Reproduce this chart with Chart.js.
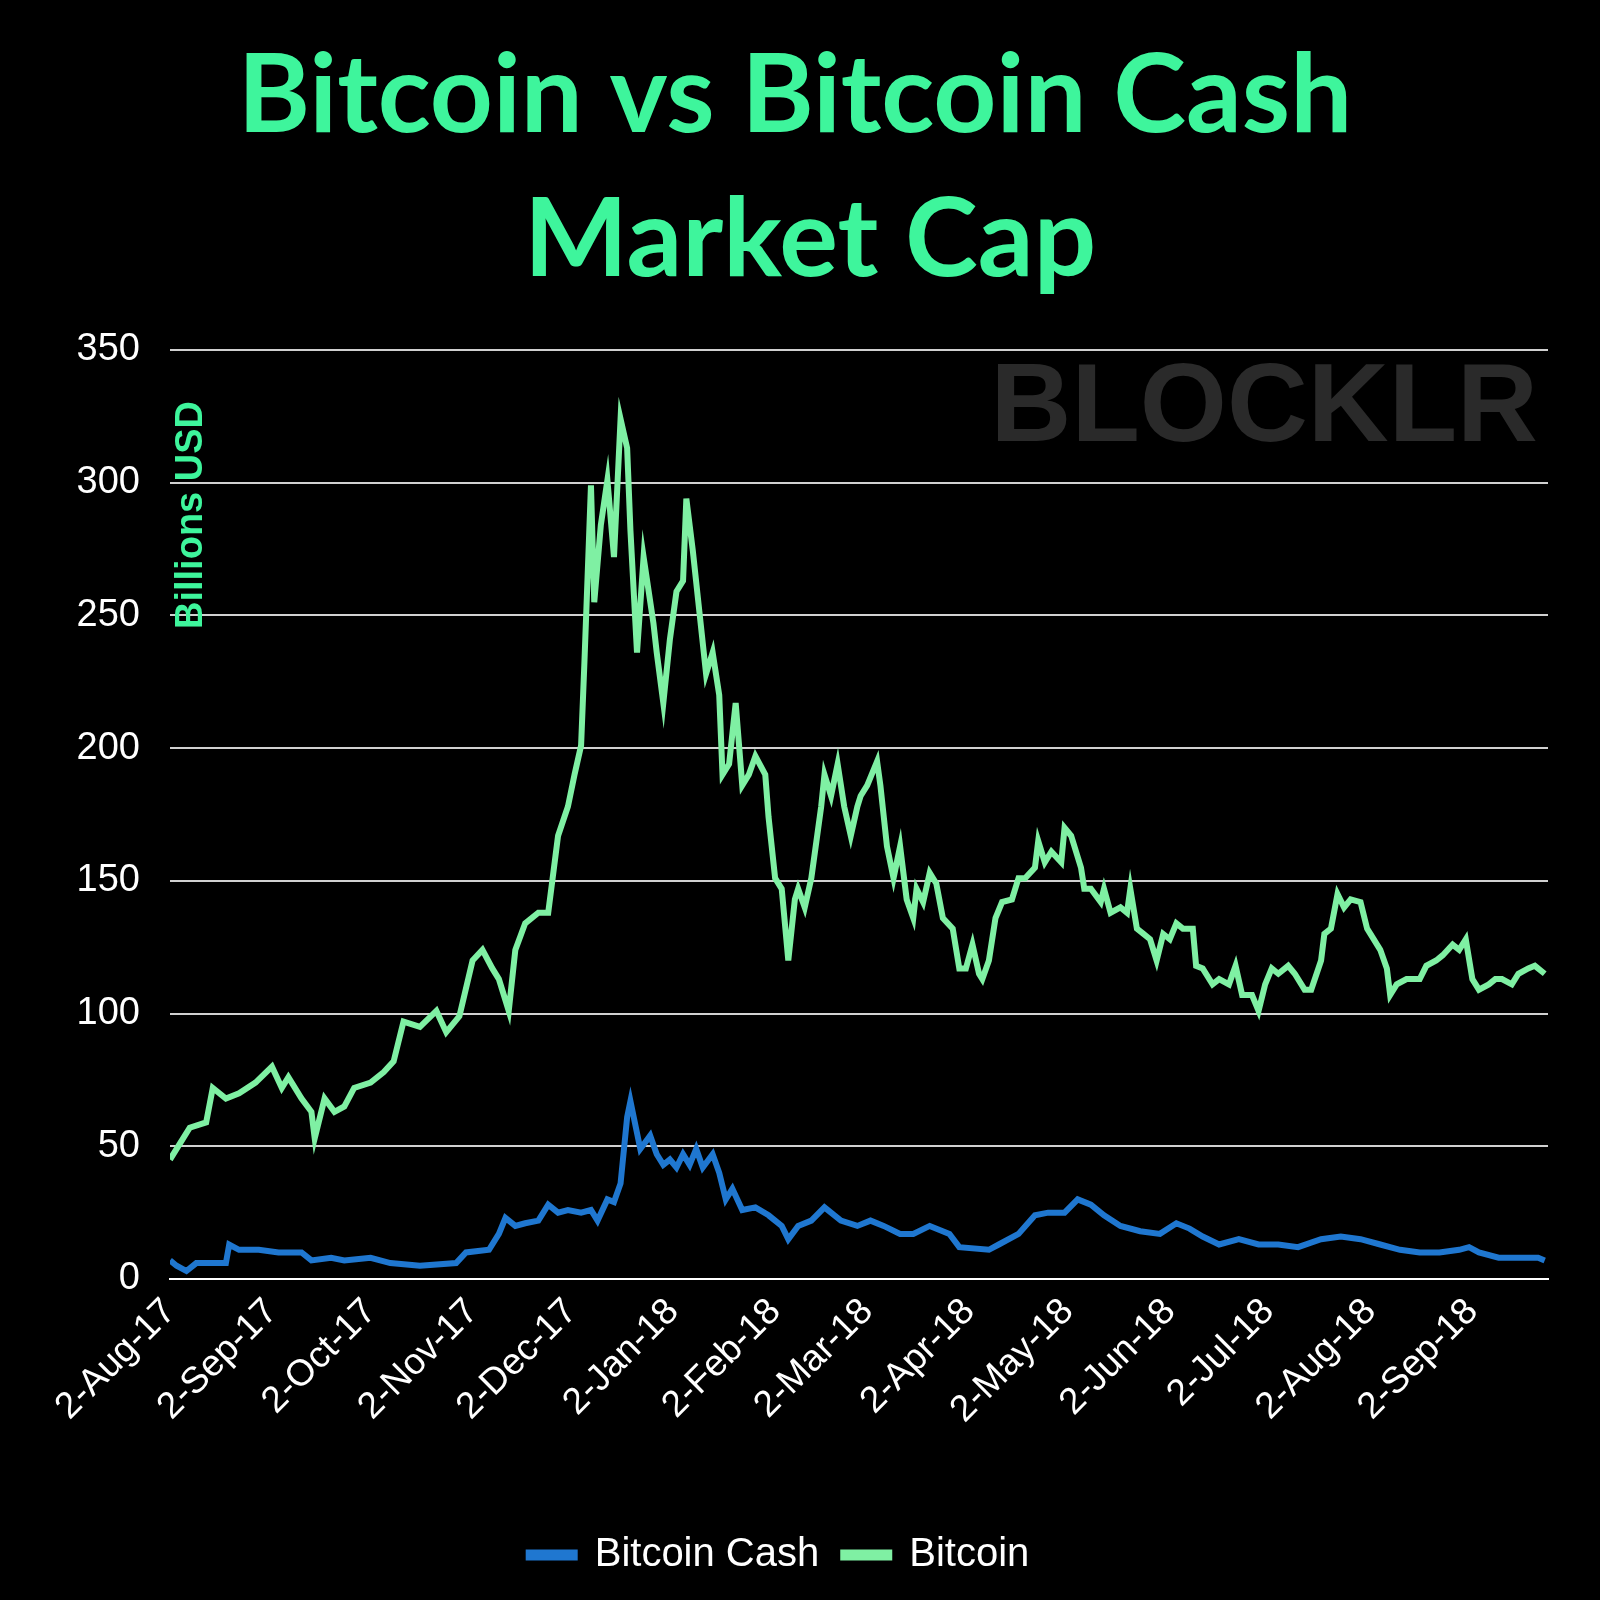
<!DOCTYPE html>
<html><head><meta charset="utf-8">
<script src="https://cdn.jsdelivr.net/npm/chart.js@4"></script>
<style>html,body{margin:0;background:#000}</style>
</head><body>
<canvas id="c" width="1600" height="1600"></canvas>
<script>
const btcDays=[0,3,6,11,13,17,21,26,31,34,36,40,43,44,47,50,53,56,61,65,68,71,76,81,84,88,92,95,98,100,103,105,108,112,115,118,121,123,125,126,128,129,131,133,135,137,139,140,142,144,147,148,150,152,154,156,157,159,161,163,165,167,168,170,172,174,176,178,181,182,184,186,188,190,191,193,195,198,199,201,203,205,207,209,210,212,215,216,218,220,222,224,226,227,229,231,233,235,238,240,242,244,246,247,249,251,253,256,258,260,263,264,266,268,271,272,274,277,278,280,283,284,286,289,291,292,294,296,298,300,302,304,306,308,311,312,314,317,319,322,324,326,329,331,333,335,337,340,342,345,347,350,351,353,355,357,359,362,364,365,368,370,371,373,376,378,380,382,385,387,390,392,394,396,398,401,403,405,408,410,413,415,418];
const btcVals=[45,51,57,59,72,68,70,74,80,72,76,68,63,53,68,63,65,72,74,78,82,97,95,101,93,99,120,124,117,113,101,124,134,138,138,167,178,190,201,232,299,255,284,301,272,324,313,282,236,272,247,236,217,241,259,263,294,274,251,228,236,220,190,194,217,186,190,197,190,174,151,147,120,143,147,140,151,178,190,182,194,178,167,178,182,186,195,186,163,151,163,143,136,147,142,153,149,136,132,117,117,126,115,113,120,136,142,143,151,151,155,165,157,161,157,170,167,155,147,147,142,147,138,140,138,147,132,130,128,120,130,128,134,132,132,118,117,111,113,111,118,107,107,101,111,117,115,118,115,109,109,120,130,132,145,140,143,142,132,130,124,117,107,111,113,113,113,118,120,122,126,124,128,113,109,111,113,113,111,115,117,118,115];
const bchDays=[0,2,5,8,12,17,18,21,27,33,40,43,49,53,61,67,76,87,90,97,100,102,105,108,112,115,118,121,125,128,130,133,135,137,139,140,142,143,146,148,150,152,154,156,158,160,162,165,167,169,171,174,178,182,186,188,191,195,199,204,209,213,217,222,226,231,237,240,249,252,258,263,267,272,276,280,284,289,295,301,306,310,314,319,325,331,337,343,350,356,362,368,374,380,386,392,395,398,404,410,416,418];
const bchVals=[7,5,3,6,6,6,13,11,11,10,10,7,8,7,8,6,5,6,10,11,17,23,20,21,22,28,25,26,25,26,22,30,29,36,61,67,55,49,54,47,43,45,42,47,43,49,42,47,40,30,34,26,27,24,20,15,20,22,27,22,20,22,20,17,17,20,17,12,11,13,17,24,25,25,30,28,24,20,18,17,21,19,16,13,15,13,13,12,15,16,15,13,11,10,10,11,12,10,8,8,8,7];
const tickDays=[0,31,61,92,122,153,184,212,243,273,304,334,365,396];
const tickLabels=['2-Aug-17','2-Sep-17','2-Oct-17','2-Nov-17','2-Dec-17','2-Jan-18','2-Feb-18','2-Mar-18','2-Apr-18','2-May-18','2-Jun-18','2-Jul-18','2-Aug-18','2-Sep-18'];
const toPts=(d,v)=>d.map((x,i)=>({x,y:v[i]}));
const extras={id:'extras',
 beforeDraw(c){const x=c.ctx;x.save();x.fillStyle='#000';x.fillRect(0,0,c.width,c.height);
  x.fillStyle='#3ef59c';x.font='bold 110px Lato';x.textAlign='center';x.textBaseline='alphabetic';
  x.fillText('Bitcoin vs Bitcoin Cash',795,132);x.fillText('Market Cap',810,276);x.restore();},
 afterDraw(c){const x=c.ctx;x.save();
  x.fillStyle='#2a2a2a';x.font='bold 112px Liberation Sans';x.textAlign='right';x.textBaseline='middle';x.fillText('BLOCKLR',1538,410);
  x.translate(192,515);x.rotate(-Math.PI/2);x.fillStyle='#3ef59c';x.font='bold 38px Liberation Sans';x.textAlign='center';x.fillText('Billions USD',0,0);
  x.restore();}};
new Chart(document.getElementById('c'),{type:'line',
 data:{datasets:[
  {label:'Bitcoin Cash',data:toPts(bchDays,bchVals),borderColor:'#1f77d0',backgroundColor:'#1f77d0',borderWidth:6,pointRadius:0,tension:0},
  {label:'Bitcoin',data:toPts(btcDays,btcVals),borderColor:'#7ff0a3',backgroundColor:'#7ff0a3',borderWidth:6,pointRadius:0,tension:0}]},
 options:{responsive:false,animation:false,
  layout:{padding:{top:350,right:52,left:10,bottom:15}},
  plugins:{legend:{position:'bottom',labels:{color:'#fff',font:{size:40,family:'Liberation Sans'},boxWidth:46,boxHeight:5,padding:24}},tooltip:{enabled:false}},
  scales:{
   x:{type:'linear',min:0,max:419,grid:{display:false},border:{color:'#fff',width:2},
     afterFit(s){s.height=232;},
     afterBuildTicks(a){a.ticks=tickDays.map(v=>({value:v}));},
     ticks:{color:'#fff',font:{size:37,family:'Liberation Sans'},maxRotation:45,minRotation:45,autoSkip:false,
       callback:(v)=>tickLabels[tickDays.indexOf(v)]}},
   y:{min:0,max:350,grid:{color:'#d0d0d0',lineWidth:2,drawTicks:false},border:{display:false},
     afterFit(s){s.width=160;},
     ticks:{stepSize:50,color:'#fff',font:{size:38,family:'Liberation Sans'},padding:30}}}},
 plugins:[extras]});
</script></body></html>
